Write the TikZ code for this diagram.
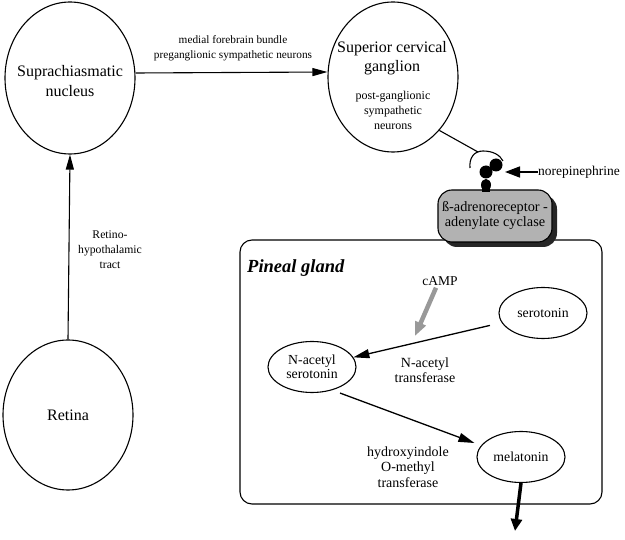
\documentclass[tikz,border=0pt]{standalone}
\usepackage{fontspec}
\setmainfont{Liberation Serif}
\usetikzlibrary{arrows.meta,shapes.geometric,calc}
\begin{document}
\begin{tikzpicture}[x=1pt,y=-1pt,
  bigcirc/.style={draw,ellipse,line width=1.1pt,inner sep=0pt},
  smallell/.style={draw,ellipse,line width=1.1pt,inner sep=0pt,minimum width=88pt,minimum height=51pt,font=\fontsize{13.8}{15}\selectfont},
  bigtxt/.style={font=\fontsize{16}{18}\selectfont,align=center,inner sep=0pt},
  midtxt/.style={font=\fontsize{14}{16.5}\selectfont,align=center,inner sep=0pt},
  subtxt/.style={font=\fontsize{12}{16}\selectfont,align=center,inner sep=0pt},
  smalltxt/.style={font=\fontsize{11.3}{16}\selectfont,align=center,inner sep=0pt},
  conn/.style={line width=1.1pt,-{Triangle[length=15pt,width=8pt]}}
]
\useasboundingbox (0,0) rectangle (625,540);
% big circles
\node[bigcirc,minimum width=130pt,minimum height=152pt] (scn) at (70,78) {};
\node[bigtxt] (scntxt) at (70,81) {Suprachiasmatic\\[2pt]nucleus};
\node[bigcirc,minimum width=130pt,minimum height=150pt] (scg) at (393,77) {};
\node[bigtxt] (scgtxt) at (392,58) {Superior cervical\\[1pt]ganglion};
\node[subtxt] (scgsub) at (393,110) {post-ganglionic\\[-1pt]sympathetic\\[-1pt]neurons};
\node[bigcirc,minimum width=130pt,minimum height=150pt] (ret) at (68,415) {};
\node[bigtxt] (rettxt) at (68,415) {Retina};
% connectors top
\draw[conn] ($(scn.east)+(0,-5)$) -- ($(scg.west)+(0,-5)$);
\node[smalltxt] (mfb) at (233,48) {medial forebrain bundle\\[-1pt]preganglionic sympathetic neurons};
\draw[conn] (ret.north) -- (scn.south);
\node[subtxt,font=\fontsize{11.7}{16}\selectfont] (rht) at (110,250) {Retino-\\[-1pt]hypothalamic\\[-1pt]tract};
% pineal gland box
\draw[line width=1.1pt,rounded corners=12pt] (240,240) rectangle (602,504);
\node[anchor=west,inner sep=0pt,font=\fontsize{18.5}{20}\bfseries\itshape\selectfont] (pg) at (247,268) {Pineal gland};
% receptor box with shadow
\fill[black!85,rounded corners=14pt] (443,195) rectangle (557,247);
\node[draw,line width=1.1pt,fill=black!30,rounded corners=14pt,minimum width=114pt,minimum height=52pt,inner sep=0pt,font=\fontsize{14.3}{16}\selectfont,align=center] (rec) at (495,216) {ß-adrenoreceptor -\\[-1pt]adenylate cyclase};
% synapse
\coordinate (syn) at (478,152);
\draw[line width=1.1pt] (scg.south east) -- (syn);
\draw[line width=1.1pt] (470,168) .. controls (469,158) and (474,151) .. (483,151) .. controls (493,151) and (500,155) .. (503,161);
\fill (486,185) ellipse (5pt and 6pt);
\fill (486,172) circle (6.5pt);
\fill (496,165) circle (6.5pt);
\fill (482,188) rectangle (490,192);
% norepinephrine
\node[anchor=west,inner sep=0pt,font=\fontsize{13.5}{16}\selectfont] (ne) at (538,172) {norepinephrine};
\coordinate (netip) at (505,172);
\draw[line width=1.6pt,-{Triangle[length=15pt,width=11pt]}] (ne.west) -- (netip);
% pathway
\node[smallell] (ser) at (543,313) {serotonin};
\node[smallell,align=center,font=\fontsize{13.8}{14}\selectfont] (nas) at (312,367) {N-acetyl\\serotonin};
\node[smallell] (mel) at (521,457) {melatonin};
\draw[conn,line width=1.3pt,-{Triangle[length=16pt,width=9pt]},shorten <=12pt] (ser) -- (nas);
\node[midtxt] (nat) at (425,370) {N-acetyl\\[-1pt]transferase};
\draw[conn,line width=1.3pt,-{Triangle[length=16pt,width=9pt]}] ($(nas.south)+(28,0)$) -- ($(mel.west)+(-2,-14)$);
\node[midtxt] (hiomt) at (408,467) {hydroxyindole\\[-1pt]O-methyl\\[-1pt]transferase};
\coordinate (melout) at (515,531);
\draw[line width=3.5pt,-{Triangle[length=12pt,width=11pt]}] (mel.south) -- (melout);
% cAMP
\node[inner sep=0pt,font=\fontsize{13.5}{16}\selectfont] (camp) at (440,281) {cAMP};
\coordinate (camptip) at (415,336);
\draw[line width=4.5pt,black!40,-{Triangle[length=14pt,width=11pt]}] ($(camp.south)+(-4,2)$) -- (camptip);
\end{tikzpicture}
\end{document}
